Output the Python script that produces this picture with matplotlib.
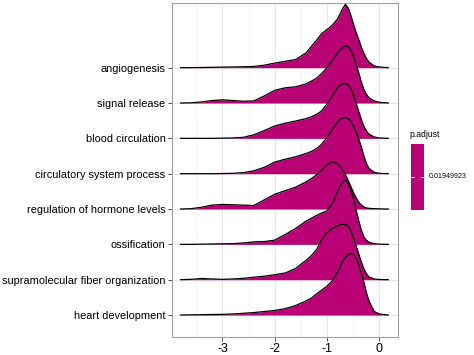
import numpy as np
import matplotlib
matplotlib.use("Agg")
import matplotlib.pyplot as plt

plt.rcParams['font.family'] = ['Liberation Sans', 'DejaVu Sans']

# categories, bottom to top
terms = ["heart development", "supramolecular fiber organization", "ossification",
         "regulation of hormone levels", "circulatory system process",
         "blood circulation", "signal release", "angiogenesis"]

# x grid of the density curves
xs = [-3.8, -3.6, -3.4, -3.2, -3.0, -2.8, -2.6, -2.4, -2.2, -2.0, -1.8, -1.6, -1.4,
      -1.3, -1.2, -1.1, -1.0, -0.9, -0.8, -0.75, -0.7, -0.65, -0.6, -0.55, -0.5,
      -0.45, -0.4, -0.35, -0.3, -0.25, -0.2, -0.1, 0.0, 0.17]

# scaled density heights (in row units)
heart = [0, 0.005, 0.01, 0.015, 0.02, 0.03, 0.05, 0.07, 0.1, 0.13, 0.18, 0.27, 0.4,
         0.48, 0.6, 0.71, 0.82, 0.97, 1.2, 1.36, 1.52, 1.63, 1.7, 1.74, 1.73,
         1.62, 1.45, 1.2, 0.95, 0.65, 0.4, 0.1, 0.03, 0]
supra = [0, 0.01, 0.035, 0.02, 0.01, 0.02, 0.04, 0.07, 0.1, 0.14, 0.19, 0.32, 0.55,
         0.68, 0.86, 1.14, 1.33, 1.45, 1.52, 1.55, 1.57, 1.56, 1.52, 1.4, 1.2,
         0.98, 0.75, 0.52, 0.32, 0.17, 0.08, 0.02, 0.005, 0]
ossif = [0, 0, 0.005, 0.01, 0.015, 0.02, 0.04, 0.07, 0.08, 0.12, 0.28, 0.45, 0.66,
         0.74, 0.82, 0.89, 0.95, 1.15, 1.5, 1.66, 1.77, 1.82, 1.74, 1.55, 1.32,
         1.0, 0.7, 0.42, 0.22, 0.12, 0.06, 0.02, 0.005, 0]
hormone = [0, 0.01, 0.05, 0.11, 0.13, 0.12, 0.11, 0.1, 0.26, 0.42, 0.52, 0.62, 0.77,
           0.86, 0.97, 1.1, 1.25, 1.34, 1.28, 1.2, 1.1, 0.97, 0.82, 0.65, 0.48,
           0.33, 0.2, 0.12, 0.06, 0.03, 0.02, 0.01, 0.005, 0]
circ_sys = [0, 0, 0, 0, 0.005, 0.01, 0.03, 0.08, 0.18, 0.33, 0.41, 0.48, 0.57,
            0.63, 0.71, 0.84, 1.03, 1.24, 1.46, 1.53, 1.57, 1.59, 1.56, 1.48, 1.36,
            1.2, 1.0, 0.78, 0.52, 0.3, 0.15, 0.04, 0.01, 0]
blood = [0, 0, 0, 0, 0.005, 0.01, 0.03, 0.1, 0.22, 0.35, 0.43, 0.49, 0.56,
         0.61, 0.68, 0.78, 0.98, 1.2, 1.43, 1.5, 1.54, 1.55, 1.52, 1.42, 1.25,
         1.02, 0.78, 0.55, 0.35, 0.22, 0.12, 0.04, 0.01, 0]
signal = [0, 0.005, 0.03, 0.07, 0.09, 0.07, 0.05, 0.06, 0.2, 0.36, 0.43, 0.46, 0.54,
          0.62, 0.7, 0.84, 1.0, 1.2, 1.42, 1.5, 1.57, 1.62, 1.6, 1.5, 1.35,
          1.12, 0.88, 0.62, 0.4, 0.25, 0.15, 0.06, 0.02, 0]
angio = [0, 0, 0.005, 0.01, 0.015, 0.02, 0.025, 0.035, 0.07, 0.13, 0.18, 0.23, 0.42,
         0.6, 0.78, 0.97, 1.08, 1.2, 1.38, 1.52, 1.68, 1.79, 1.7, 1.5, 1.25,
         1.02, 0.82, 0.6, 0.42, 0.27, 0.16, 0.05, 0.02, 0]

densities = [heart, supra, ossif, hormone, circ_sys, blood, signal, angio]
p_adjust = 0.01949923
fill_col = "#BA0075"

fig = plt.figure(figsize=(4.74, 3.55), dpi=100)
ax = fig.add_axes([171.7 / 474, 18.3 / 355, 226 / 474, 333.7 / 355])

x = np.array(xs)
# draw top row first so lower ridges sit on top
for i in range(len(terms) - 1, -1, -1):
    base = i + 1
    h = np.array(densities[i])
    z = 10 + (len(terms) - i) * 2
    ax.fill_between(x, base, base + h, color=fill_col, lw=0, zorder=z)
    ax.plot(x, base + h, color="black", lw=0.9, zorder=z + 1)

ax.set_xlim(-3.97, 0.35)
ax.set_ylim(0.387, 9.83)
ax.set_yticks(range(1, len(terms) + 1))
ax.set_yticklabels(terms, fontsize=7.95, color="black")
ax.set_xticks([-3, -2, -1, 0])
ax.set_xticklabels(["-3", "-2", "-1", "0"], fontsize=9, color="black")
ax.set_xticks([-3.5, -2.5, -1.5, -0.5], minor=True)
ax.tick_params(axis="both", which="major", length=3, width=0.6, color="#333333", pad=1.5)
ax.tick_params(axis="x", which="minor", length=0)
ax.grid(True, which="major", color="#E6E6E6", lw=0.8, zorder=0)
ax.grid(True, which="minor", axis="x", color="#EFEFEF", lw=0.5, zorder=0)
ax.set_axisbelow(True)
for s in ax.spines.values():
    s.set_color("#A0A0A0")
    s.set_linewidth(0.8)

# legend colour bar (single value)
cax = fig.add_axes([411 / 474, (355 - 210) / 355, 13 / 474, 66 / 355])
cax.set_facecolor(fill_col)
cax.set_xlim(0, 1)
cax.set_ylim(0, 1)
cax.set_xticks([])
cax.set_yticks([])
for s in cax.spines.values():
    s.set_visible(False)
cax.plot([0, 0.2], [0.5, 0.5], color="white", lw=0.6)
cax.plot([0.8, 1], [0.5, 0.5], color="white", lw=0.6)
fig.text(409 / 474, 1 - 135 / 355, "p.adjust", fontsize=6.2, va="center", ha="left")
fig.text(429 / 474, 1 - 177 / 355, f"{p_adjust:.8f}", fontsize=5.1, va="center", ha="left")

fig.savefig("out.png", dpi=100)
